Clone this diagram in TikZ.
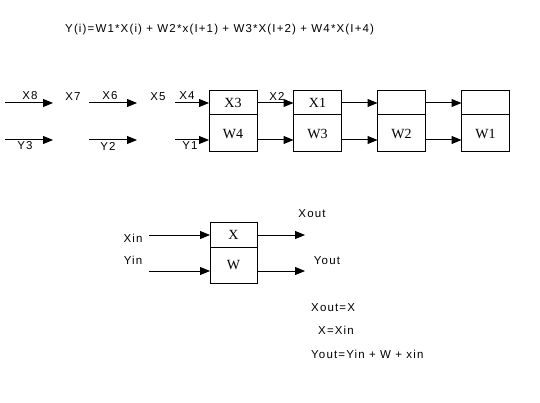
\documentclass[tikz,border=0pt]{standalone}
\usepackage{fontspec}
\setmainfont{Liberation Serif}
\newfontfamily\labelfont[LetterSpace=10]{Liberation Sans}
\usetikzlibrary{arrows.meta, positioning}

\begin{document}
\begin{tikzpicture}
   [
      x=1pt, y=-1pt,
      xcell/.style={rectangle, draw, line width=1pt, minimum width=48pt, minimum height=24pt,
                    inner sep=0pt, outer sep=0pt, font=\fontsize{14}{14}\selectfont},
      wcell/.style={rectangle, draw, line width=1pt, minimum width=48pt, minimum height=37pt,
                    inner sep=0pt, outer sep=0pt, font=\fontsize{14}{14}\selectfont},
      arr/.style={-{Triangle[length=10pt, width=8pt]}, line width=1pt},
      label node/.style={inner sep=0pt, font=\labelfont\fontsize{11.5}{13}\selectfont}
   ]

   % frame of the page
   \useasboundingbox (0,0) rectangle (540,403);

   % =======================================================
   % Formula
   % =======================================================
   \node[label node, anchor=west] (formula) at (65,30)
      {Y(i)=W1*X(i) + W2*x(I+1) + W3*X(I+2) + W4*X(I+4)};

   % =======================================================
   % Top row: chain of four cells
   % =======================================================

   % Cells
   \node[xcell] (x1) at (233,103) {X3};
   \node[wcell, below=0pt of x1] (w1) {W4};
   \node[xcell] (x2) at (317.5,103) {X1};
   \node[wcell, below=0pt of x2] (w2) {W3};
   \node[xcell] (x3) at (401.5,103) {};
   \node[wcell, below=0pt of x3] (w3) {W2};
   \node[xcell] (x4) at (485.5,103) {};
   \node[wcell, below=0pt of x4] (w4) {W1};

   % Free ends of the input arrows
   \coordinate (x8start) at (5,103);   \coordinate (x8end) at (53,103);
   \coordinate (x6start) at (89,103);  \coordinate (x6end) at (137,103);
   \coordinate (x4start) at (175,103);
   \coordinate (y3start) at (5,140);   \coordinate (y3end) at (53,140);
   \coordinate (y2start) at (89,140);  \coordinate (y2end) at (137,140);
   \coordinate (y1start) at (175,140);

   % Input arrows
   \draw[arr] (x8start) -- (x8end);
   \draw[arr] (x6start) -- (x6end);
   \draw[arr] (x4start) -- (x1.west);
   \draw[arr] (y3start) -- (y3end);
   \draw[arr] (y2start) -- (y2end);
   \draw[arr] (y1start) -- ([yshift=-6.5pt]w1.west);

   % Arrows between cells
   \draw[arr] (x1) -- (x2);
   \draw[arr] (x2) -- (x3);
   \draw[arr] (x3) -- (x4);
   \draw[arr] ([yshift=-6.5pt]w1.east) -- ([yshift=-6.5pt]w2.west);
   \draw[arr] ([yshift=-6.5pt]w2.east) -- ([yshift=-6.5pt]w3.west);
   \draw[arr] ([yshift=-6.5pt]w3.east) -- ([yshift=-6.5pt]w4.west);

   % Labels
   \node[label node] (lx8) at (30,96) {X8};
   \node[label node] (lx7) at (73,97) {X7};
   \node[label node] (lx6) at (110,96) {X6};
   \node[label node] (lx5) at (158,97) {X5};
   \node[label node] (lx4) at (187,96) {X4};
   \node[label node] (lx2) at (277,96) {X2};
   \node[label node] (ly3) at (25,146) {Y3};
   \node[label node] (ly2) at (108,146) {Y2};
   \node[label node] (ly1) at (190,146) {Y1};

   % =======================================================
   % Bottom: a single cell
   % =======================================================
   \node[xcell, minimum width=47pt] (xc) at (233.5,235) {X};
   \node[wcell, minimum width=47pt, minimum height=36pt, below=0pt of xc] (wc) {W};

   \coordinate (xinstart) at (149,235);
   \coordinate (yinstart) at (149,271);
   \coordinate (xoutend) at (305,235);
   \coordinate (youtend) at (305,271);

   \draw[arr] (xinstart) -- (xc.west);
   \draw[arr] (yinstart) -- ([yshift=-6pt]wc.west);
   \draw[arr] (xc.east) -- (xoutend);
   \draw[arr] ([yshift=-6pt]wc.east) -- (youtend);

   \node[label node] (lxin) at (133,238) {Xin};
   \node[label node] (lyin) at (133,260) {Yin};
   \node[label node] (lxout) at (312,214) {Xout};
   \node[label node] (lyout) at (327,261) {Yout};

   % Rules of the cell
   \node[label node, anchor=west] (rule1) at (311,308) {Xout=X};
   \node[label node, anchor=west] (rule2) at (318,330) {X=Xin};
   \node[label node, anchor=west] (rule3) at (311,354) {Yout=Yin + W + xin};

\end{tikzpicture}
\end{document}
